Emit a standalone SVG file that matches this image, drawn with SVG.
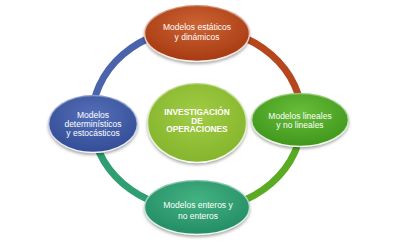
<svg xmlns="http://www.w3.org/2000/svg" width="399" height="245" viewBox="0 0 399 245">
<defs>
<style>
.lbl{font-family:"Liberation Sans",Arial,sans-serif;font-size:8.5px;fill:#ffffff;text-anchor:middle}
.ctr{font-family:"Liberation Sans",Arial,sans-serif;font-size:8.3px;font-weight:bold;fill:#ffffff;text-anchor:middle}
.rim{stroke:url(#rimG);stroke-width:1.6}
.seg{fill:none;stroke-width:7;stroke-linecap:butt}
</style>
<filter id="sh" x="-20%" y="-20%" width="140%" height="150%">
<feDropShadow dx="0" dy="2" stdDeviation="1.8" flood-color="#000" flood-opacity="0.35"/>
</filter>
<linearGradient id="rimG" x1="0" y1="0" x2="0" y2="1">
<stop offset="0" stop-color="#ffffff" stop-opacity="0.35"/>
<stop offset="1" stop-color="#ffffff" stop-opacity="0.95"/>
</linearGradient>
<radialGradient id="gTop" cx="0.5" cy="0.35" r="0.6">
<stop offset="0" stop-color="#cc6434"/>
<stop offset="1" stop-color="#a93c14"/>
</radialGradient>
<radialGradient id="gLeft" cx="0.5" cy="0.35" r="0.6">
<stop offset="0" stop-color="#5570b8"/>
<stop offset="1" stop-color="#354f98"/>
</radialGradient>
<radialGradient id="gRight" cx="0.5" cy="0.35" r="0.6">
<stop offset="0" stop-color="#68bd3a"/>
<stop offset="1" stop-color="#42991d"/>
</radialGradient>
<radialGradient id="gBot" cx="0.5" cy="0.35" r="0.6">
<stop offset="0" stop-color="#44b282"/>
<stop offset="1" stop-color="#258f66"/>
</radialGradient>
<radialGradient id="gCtr" cx="0.5" cy="0.4" r="0.6">
<stop offset="0" stop-color="#a2cc45"/>
<stop offset="1" stop-color="#84b52c"/>
</radialGradient>
</defs>
<rect width="399" height="245" fill="#ffffff"/>
<g id="connectors">
<path class="seg" stroke="#4a63aa" d="M92,119 A105,91 0 0,1 197,28"/>
<path class="seg" stroke="#b6461c" d="M197,28 A105,91 0 0,1 302,119"/>
<path class="seg" stroke="#5aab22" d="M302,119 A105,91 0 0,1 197,210"/>
<path class="seg" stroke="#2f9e72" d="M197,210 A105,91 0 0,1 92,119"/>
</g>
<g id="center">
<ellipse cx="197" cy="123" rx="50" ry="40" fill="url(#gCtr)" filter="url(#sh)"/>
<ellipse cx="197" cy="123" rx="49.5" ry="39.5" fill="none" class="rim"/>
<text class="ctr" x="197" y="115">INVESTIGACIÓN</text>
<text class="ctr" x="197" y="123.5">DE</text>
<text class="ctr" x="197" y="132">OPERACIONES</text>
</g>
<g id="top">
<ellipse cx="197" cy="33.5" rx="53" ry="28.5" fill="url(#gTop)" filter="url(#sh)"/>
<ellipse cx="197" cy="33.5" rx="52.5" ry="28" fill="none" class="rim"/>
<text class="lbl" x="197" y="30">Modelos estáticos</text>
<text class="lbl" x="197" y="40">y dinámicos</text>
</g>
<g id="left">
<ellipse cx="93" cy="124" rx="45" ry="29" fill="url(#gLeft)" filter="url(#sh)"/>
<ellipse cx="93" cy="124" rx="44.5" ry="28.5" fill="none" class="rim"/>
<text class="lbl" x="93" y="118">Modelos</text>
<text class="lbl" x="93" y="127">determinísticos</text>
<text class="lbl" x="93" y="136">y estocásticos</text>
</g>
<g id="right">
<ellipse cx="300" cy="120" rx="49" ry="27" fill="url(#gRight)" filter="url(#sh)"/>
<ellipse cx="300" cy="120" rx="48.5" ry="26.5" fill="none" class="rim"/>
<text class="lbl" x="300" y="119">Modelos lineales</text>
<text class="lbl" x="300" y="128">y no lineales</text>
</g>
<g id="bottom">
<ellipse cx="197" cy="207.5" rx="53" ry="27.5" fill="url(#gBot)" filter="url(#sh)"/>
<ellipse cx="197" cy="207.5" rx="52.5" ry="27" fill="none" class="rim"/>
<text class="lbl" x="198" y="208">Modelos enteros y</text>
<text class="lbl" x="198" y="219">no enteros</text>
</g>
</svg>
